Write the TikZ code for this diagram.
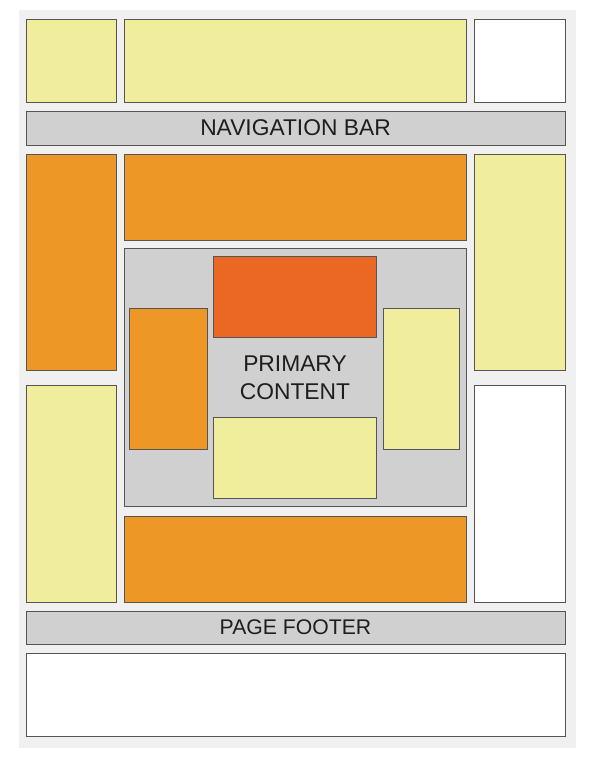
\documentclass[tikz,border=0pt]{standalone}
\usepackage{fontspec}
\setmainfont{Liberation Sans}
\definecolor{bgc}{HTML}{F0F0F0}
\definecolor{yel}{HTML}{F0EE9C}
\definecolor{org}{HTML}{EC9726}
\definecolor{red}{HTML}{EB6824}
\definecolor{gry}{HTML}{D0D0D0}
\definecolor{edge}{HTML}{555555}
\definecolor{txt}{HTML}{1E1E1E}
\tikzset{
  blk/.style={draw=edge, line width=0.9bp, inner sep=0pt, outer sep=0pt},
  lbl/.style={text=txt, font=\fontsize{22.8bp}{28bp}\selectfont, align=center, inner sep=0pt},
  lbls/.style={lbl, font=\fontsize{21.2bp}{26bp}\selectfont}
}
\newcommand\blkbox[6]{%
  \node[blk, fill=#6, minimum width={(#4-#2)*1bp}, minimum height={(#5-#3)*1bp}] (#1) at ({(#2+#4)/2},{(#3+#5)/2}) {};}
\begin{document}
\begin{tikzpicture}[x=1bp,y=-1bp]
\useasboundingbox (0,0) rectangle (595,759);
\fill[bgc] (19,10) rectangle (576,748);
\blkbox{tl}{26}{19}{116}{102}{yel}
\blkbox{tm}{124}{19}{466}{102}{yel}
\blkbox{tr}{474}{19}{565}{102}{white}
\blkbox{nav}{26}{111}{565}{145}{gry}
\blkbox{lo}{26}{154}{116}{370.5}{org}
\blkbox{ly}{26}{385}{116}{602}{yel}
\blkbox{ry}{474}{154}{565}{370.5}{yel}
\blkbox{rw}{474}{385}{565}{602}{white}
\blkbox{co}{124}{154}{466}{240}{org}
\blkbox{cg}{124}{248}{466}{506.5}{gry}
\blkbox{cb}{124}{516}{466}{602}{org}
\blkbox{ir}{213}{256}{376}{337}{red}
\blkbox{il}{129.5}{308.5}{207}{449}{org}
\blkbox{iy}{383}{308.5}{459.5}{449}{yel}
\blkbox{ib}{213}{417}{376}{498}{yel}
\blkbox{ft}{26}{611}{565}{644}{gry}
\blkbox{bt}{26}{653}{565}{736}{white}
\node[lbl] (navt) at (nav) {NAVIGATION BAR};
\node[lbls] (ftt) at (ft) {PAGE FOOTER};
\node[lbl] (pc) at (295,378) {PRIMARY\\CONTENT};
\end{tikzpicture}
\end{document}
